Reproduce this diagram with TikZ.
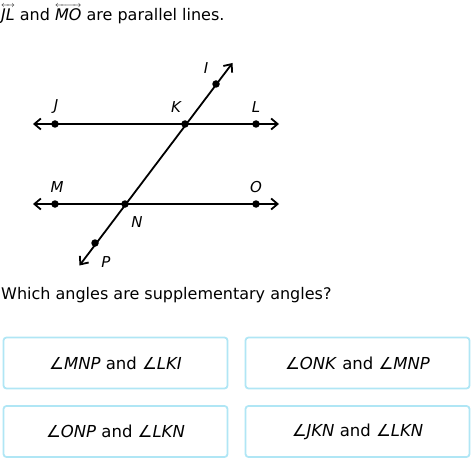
\documentclass[tikz,border=0pt]{standalone}
\usepackage{amsmath}
\usepackage{fontspec}
\setmainfont{DejaVu Sans}
\usetikzlibrary{arrows.meta}
\definecolor{boxcyan}{HTML}{B0E6F5}
\newcommand{\winkel}{∠}
\makeatletter
\newcommand{\gerade}[1]{\vbox{\offinterlineskip\halign{##\cr\leftrightarrowfill@\scriptscriptstyle\cr\noalign{\kern1pt}\textit{#1}\cr}}}
\makeatother

\begin{document}
\begin{tikzpicture}[x=1pt,y=-1pt,
	punkt/.style={circle,fill,inner sep=0pt,minimum size=7.5pt},
	buchstabe/.style={font=\fontsize{15}{18}\selectfont\itshape},
	antwort/.style={draw=boxcyan,line width=1.8pt,rounded corners=3pt,minimum width=224pt,minimum height=51pt,font=\fontsize{16.5}{20}\selectfont},
	linie/.style={line width=1.8pt,{Straight Barb[length=6.5pt,width=11pt]}-{Straight Barb[length=6.5pt,width=11pt]}}]
	\useasboundingbox (0,0) rectangle (472,460);
	% Text
		\node (titel) [anchor=base west,inner sep=0pt,font=\fontsize{16}{19}\selectfont] at (1,20.5) {\gerade{JL} and \gerade{MO} are parallel lines.};
		\node (frage) [anchor=base west,inner sep=0pt,font=\fontsize{16}{19}\selectfont] at (1,299) {Which angles are supplementary angles?};
	% Punkte
		\node (J) at (55,124) [punkt] {};
		\node (K) at (185,124) [punkt] {};
		\node (L) at (256,124) [punkt] {};
		\node (M) at (55,204) [punkt] {};
		\node (N) at (125,204) [punkt] {};
		\node (O) at (256,204) [punkt] {};
		\node (I) at (216,84) [punkt] {};
		\node (P) at (95,243) [punkt] {};
		\coordinate (jl-w) at (33,124);
		\coordinate (jl-o) at (279,124);
		\coordinate (mo-w) at (33,204);
		\coordinate (mo-o) at (279,204);
		\coordinate (ip-o) at (232.5,63);
		\coordinate (ip-u) at (79.5,265.5);
	% Geraden
		\draw[linie] (jl-w) -- (jl-o);
		\draw[linie] (mo-w) -- (mo-o);
		\draw[linie] (ip-u) -- (ip-o);
	% Beschriftung
		\node[buchstabe] (J-txt) at (56,107) {J};
		\node[buchstabe] (K-txt) at (176,107) {K};
		\node[buchstabe] (L-txt) at (256,107) {L};
		\node[buchstabe] (I-txt) at (206,68) {I};
		\node[buchstabe] (M-txt) at (57,187) {M};
		\node[buchstabe] (O-txt) at (256,187) {O};
		\node[buchstabe] (N-txt) at (137,222) {N};
		\node[buchstabe] (P-txt) at (106,262) {P};
	% Antworten
		\node[antwort] (a1) at (115.5,363) {\winkel\textit{MNP} and \winkel\textit{LKI}};
		\node[antwort] (a2) at (357.5,363) {\winkel\textit{ONK} and \winkel\textit{MNP}};
		\node[antwort] (a3) at (115.5,431.5) {\winkel\textit{ONP} and \winkel\textit{LKN}};
		\node[antwort] (a4) at (357.5,431.5) {\winkel\textit{JKN} and \winkel\textit{LKN}};
	\end{tikzpicture}
\end{document}
